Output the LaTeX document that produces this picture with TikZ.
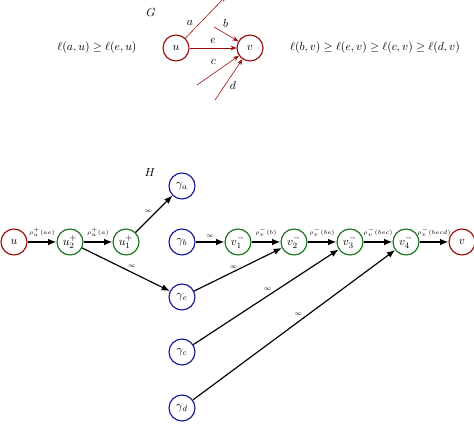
\documentclass[tikz,border=0pt]{standalone}
\usetikzlibrary{arrows.meta}
\definecolor{dred}{rgb}{0.6,0.05,0.05}
\definecolor{dgreen}{rgb}{0.1,0.45,0.1}
\definecolor{dblue}{rgb}{0.1,0.1,0.6}
\begin{document}
\begin{tikzpicture}[x=0.03cm,y=-0.03cm,
  rnode/.style={circle,draw=dred,line width=1pt,minimum size=0.78cm,inner sep=0pt},
  gnode/.style={circle,draw=dgreen,line width=1pt,minimum size=0.78cm,inner sep=0pt},
  bnode/.style={circle,draw=dblue,line width=1pt,minimum size=0.78cm,inner sep=0pt},
  gedge/.style={draw=dred,line width=0.5pt,-{Stealth[length=5pt,width=4pt]}},
  hedge/.style={draw=black,line width=1pt,-{Latex[length=7pt,width=5.5pt]}},
  lab/.style={font=\tiny,inner sep=1pt}]
\useasboundingbox (0,0) rectangle (474,424);
% G
\node (G) at (151,12) {$G$};
\node[rnode] (gu) at (176,48) {$u$};
\node[rnode] (gv) at (250,48) {$v$};
\coordinate (ta) at (226,-4);
\coordinate (sb) at (214,27);
\coordinate (sc) at (197,85);
\coordinate (sd) at (215,100);
\draw[gedge] (gu) -- (ta) node[pos=0.35,left=2pt] {$a$};
\draw[gedge] (gu) -- (gv) node[midway,above=0pt] {$e$};
\draw[gedge] (sb) -- (gv) node[pos=0.25,above right=-1pt] {$b$};
\draw[gedge] (sc) -- (gv) node[pos=0.55,above left=0pt] {$c$};
\draw[gedge] (sd) -- (gv) node[pos=0.35,right=1pt] {$d$};
\node (lu) at (97,48) {$\ell(a,u)\geq \ell(e,u)$};
\node (lv) at (375,48) {$\ell(b,v)\geq \ell(e,v)\geq \ell(c,v)\geq \ell(d,v)$};
% H
\node (H) at (150,172) {$H$};
\node[rnode] (u) at (14,242) {$u$};
\node[gnode] (u2) at (70,242) {$u_2^+$};
\node[gnode] (u1) at (126,242) {$u_1^+$};
\node[bnode] (ga) at (182,186) {$\gamma_a$};
\node[bnode] (gb) at (182,242) {$\gamma_b$};
\node[bnode] (ge) at (182,297) {$\gamma_e$};
\node[bnode] (gc) at (182,352) {$\gamma_c$};
\node[bnode] (gd) at (182,408) {$\gamma_d$};
\node[gnode] (v1) at (238,242) {$v_1^-$};
\node[gnode] (v2) at (294,242) {$v_2^-$};
\node[gnode] (v3) at (350,242) {$v_3^-$};
\node[gnode] (v4) at (406,242) {$v_4^-$};
\node[rnode] (v) at (462,242) {$v$};
\draw[hedge] (u) -- (u2) node[lab,midway,above=3pt] {$\rho_u^+(ae)$};
\draw[hedge] (u2) -- (u1) node[lab,midway,above=3pt] {$\rho_u^+(a)$};
\draw[hedge] (u1) -- (ga) node[lab,midway,above left=0pt] {$\infty$};
\draw[hedge] (u2) -- (ge) node[lab,midway,above right=0pt] {$\infty$};
\draw[hedge] (gb) -- (v1) node[lab,midway,above=2pt] {$\infty$};
\draw[hedge] (v1) -- (v2) node[lab,midway,above=3pt] {$\rho_v^-(b)$};
\draw[hedge] (v2) -- (v3) node[lab,midway,above=3pt] {$\rho_v^-(be)$};
\draw[hedge] (v3) -- (v4) node[lab,midway,above=3pt] {$\rho_v^-(bec)$};
\draw[hedge] (v4) -- (v) node[lab,midway,above=3pt] {$\rho_v^-(becd)$};
\draw[hedge] (ge) -- (v2) node[lab,pos=0.45,above=1pt] {$\infty$};
\draw[hedge] (gc) -- (v3) node[lab,pos=0.55,above left=0pt] {$\infty$};
\draw[hedge] (gd) -- (v4) node[lab,pos=0.55,above left=0pt] {$\infty$};
\end{tikzpicture}
\end{document}
